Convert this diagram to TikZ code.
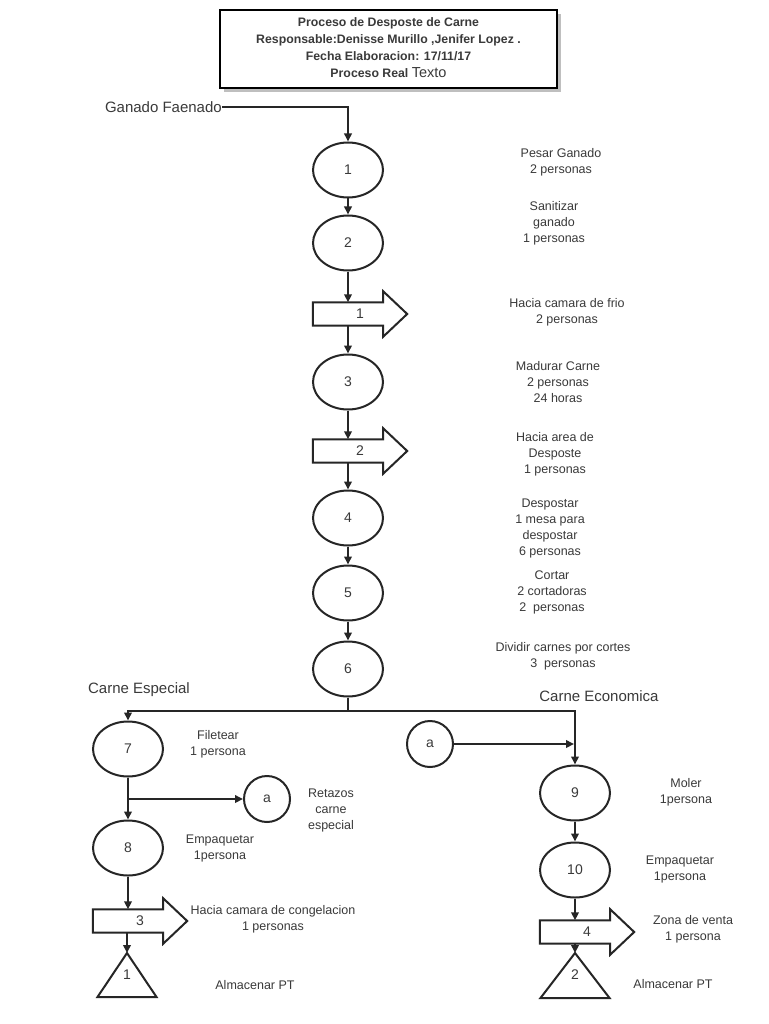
\documentclass[tikz,border=0pt]{standalone}
\usepackage{fontspec}
\setmainfont{Liberation Sans}
\usetikzlibrary{shapes.geometric,arrows.meta,calc}
\definecolor{ink}{HTML}{262626}
\definecolor{txt}{HTML}{3A3A3A}
\begin{document}
\begin{tikzpicture}[x=1pt,y=-1pt,
  proc/.style={draw=ink, line width=2pt, ellipse, minimum width=70pt, minimum height=55pt, inner sep=0pt, text=txt, font=\fontsize{14}{16}\selectfont},
  conn/.style={draw=ink, circle, line width=2pt, minimum size=46pt, inner sep=0pt, text=txt, font=\fontsize{14}{16}\selectfont},
  flow/.style={draw=ink, line width=1.9pt, -{Triangle[length=8pt,width=7.5pt]}},
  plain/.style={draw=ink, line width=2pt, line join=miter},
  tbox/.style={minimum width=94pt, minimum height=23pt, inner sep=0pt, text=txt, font=\fontsize{14}{16}\selectfont},
  lbl/.style={align=center, text=txt, font=\fontsize{12.5}{16}\selectfont},
  biglbl/.style={text=txt, font=\fontsize{15}{18}\selectfont},
  ttl/.style={align=center, text=txt, font=\fontsize{12.3}{17}\selectfont\bfseries}
]
\useasboundingbox (0,0) rectangle (768,1024);
\fill[white] (0,0) rectangle (768,1024);

% title
\fill[black!25] (224,14) rectangle (561,92);
\node[draw=black, line width=2.5pt, fill=white, minimum width=337pt, minimum height=78pt, inner sep=0pt] (title) at (388.5,49) {};
\node[ttl] (titletext) at (388.5,48) {Proceso de Desposte de Carne\\Responsable:Denisse Murillo ,Jenifer Lopez .\\Fecha Elaboracion: 17/11/17\\Proceso Real {\mdseries\fontsize{14.5}{17}\selectfont Texto}};

% start
\node[biglbl, anchor=east, inner sep=0pt] (gf) at (222,107) {Ganado Faenado};

% main column
\node[proc] (e1) at (348,170) {1};
\node[proc] (e2) at (348,243) {2};
\node[tbox] (t1) at (360,314) {1};
\node[proc] (e3) at (348,382) {3};
\node[tbox] (t2) at (360,451) {2};
\node[proc] (e4) at (348,518) {4};
\node[proc] (e5) at (348,593) {5};
\node[proc] (e6) at (348,669) {6};

% left branch
\node[proc] (e7) at (128,749) {7};
\node[conn] (a1) at (267,799) {a};
\node[proc] (e8) at (128,848) {8};
\node[tbox] (t3) at (140,921) {3};
\coordinate (tri1) at (127,953);
\draw[plain] (tri1) -- ++(29.5,44) -- ++(-59,0) -- cycle;
\node[text=txt, font=\fontsize{14}{16}\selectfont] (tri1n) at (127,975) {1};

% right branch
\node[conn] (a2) at (430,744) {a};
\coordinate (a2end) at (574,744);
\node[proc] (e9) at (575,793) {9};
\node[proc] (e10) at (575,870) {10};
\node[tbox] (t4) at (587,932) {4};
\coordinate (tri2) at (575,953);
\draw[plain] (tri2) -- ++(34.5,45) -- ++(-69,0) -- cycle;
\node[text=txt, font=\fontsize{14}{16}\selectfont] (tri2n) at (575,975) {2};

% transport arrow outlines
\foreach \n in {t1,t2,t3,t4}{
  \draw[plain] (\n.north west) -- ($(\n.north east)+(-24,0)$) -- ($(\n.north east)+(-24,-11)$)
    -- (\n.east) -- ($(\n.south east)+(-24,11)$) -- ($(\n.south east)+(-24,0)$) -- (\n.south west) -- cycle;
}

% connectors
\draw[flow] (gf.east) -| (e1.north);
\draw[flow] (e1.south) -- (e2.north);
\draw[flow] (e2.south) -- (e2.south |- t1.north);
\draw[flow] (e3.north |- t1.south) -- (e3.north);
\draw[flow] (e3.south) -- (e3.south |- t2.north);
\draw[flow] (e4.north |- t2.south) -- (e4.north);
\draw[flow] (e4.south) -- (e5.north);
\draw[flow] (e5.south) -- (e6.north);
\coordinate (split) at (348,711);
\draw[plain] (e6.south) -- (split);
\draw[flow] (split) -| (e7.north);
\draw[flow] (split) -| (e9.north);
\draw[flow] (e7.south) -- (e8.north);
\draw[flow] (e7.south |- a1.west) -- (a1.west);
\draw[flow] (e8.south) -- (e8.south |- t3.north);
\draw[flow] (tri1 |- t3.south) -- (tri1);
\draw[flow] (a2.east) -- (a2end);
\draw[flow] (e9.south) -- (e10.north);
\draw[flow] (e10.south) -- (e10.south |- t4.north);
\draw[flow] (tri2 |- t4.south) -- (tri2);

% labels
\node[lbl] (l1) at (561,162) {Pesar Ganado\\2 personas};
\node[lbl] (l2) at (554,223) {Sanitizar\\ganado\\1 personas};
\node[lbl] (l3) at (567,312) {Hacia camara de frio\\2 personas};
\node[lbl] (l4) at (558,382) {Madurar Carne\\2 personas\\24 horas};
\node[lbl] (l5) at (555,454) {Hacia area de\\Desposte\\1 personas};
\node[lbl] (l6) at (550,528) {Despostar\\1 mesa para\\despostar\\6 personas};
\node[lbl] (l7) at (552,592) {Cortar\\2 cortadoras\\2\ \ personas};
\node[lbl] (l8) at (563,656) {Dividir carnes por cortes\\3\ \ personas};
\node[biglbl] (ce) at (139,690) {Carne Especial};
\node[biglbl] (cec) at (599,696) {Carne Economica};
\node[lbl] (l9) at (218,744) {Filetear\\1 persona};
\node[lbl] (l10) at (331,810) {Retazos\\carne\\especial};
\node[lbl] (l11) at (220,848) {Empaquetar\\1persona};
\node[lbl] (l12) at (273,919) {Hacia camara de congelacion\\1 personas};
\node[lbl] (l13) at (255,985) {Almacenar PT};
\node[lbl] (l14) at (686,792) {Moler\\1persona};
\node[lbl] (l15) at (680,869) {Empaquetar\\1persona};
\node[lbl] (l16) at (693,929) {Zona de venta\\1 persona};
\node[lbl] (l17) at (673,984) {Almacenar PT};
\end{tikzpicture}
\end{document}
